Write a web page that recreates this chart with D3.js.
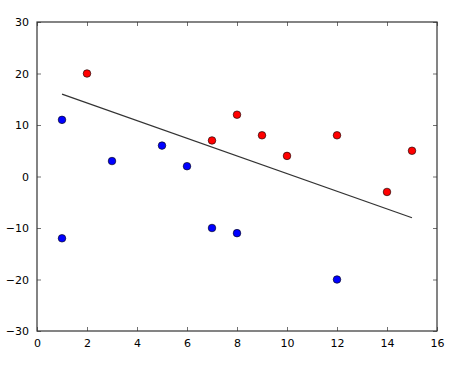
<!DOCTYPE html>
<html>
<head>
<meta charset="utf-8">
<script src="https://cdn.jsdelivr.net/npm/d3@7"></script>
<style>
  body { margin: 0; background: #fff; }
  svg { display: block; }
</style>
</head>
<body>
<svg id="chart" width="474" height="369"></svg>
<script>
// data
const blueX = [1, 1, 3, 5, 6, 7, 8, 12];
const blueY = [11, -12, 3, 6, 2, -10, -11, -20];
const redX = [2, 7, 8, 9, 10, 12, 14, 15];
const redY = [20, 7, 12, 8, 4, 8, -3, 5];
const fitX = [1, 15];
const fitY = [16, -8];
const xTicks = [0, 2, 4, 6, 8, 10, 12, 14, 16];
const yTicks = [-30, -20, -10, 0, 10, 20, 30];

const size = { width: 474, height: 369 };
const margin = { top: 22, right: 37, bottom: 38, left: 37 };

const svg = d3.select("#chart");

const xScale = d3
  .scaleLinear()
  .domain([0, 16])
  .range([margin.left, size.width - margin.right]);

const yScale = d3
  .scaleLinear()
  .domain([-30, 30])
  .range([size.height - margin.bottom, margin.top]);

const tickLen = 4;
const styleAxis = (g) => {
  g.attr("font-family", "DejaVu Sans, sans-serif").attr("font-size", 11);
  g.select(".domain").remove();
  g.selectAll(".tick line").attr("stroke", "#333").attr("stroke-width", 0.7);
  g.selectAll(".tick text").attr("fill", "#000");
};

// bottom / top
svg
  .append("g")
  .attr("transform", `translate(0,${yScale(-30)})`)
  .call(d3.axisBottom(xScale).tickValues(xTicks).tickSizeInner(-tickLen).tickSizeOuter(0).tickPadding(8).tickFormat(d3.format("d")))
  .call(styleAxis);

svg
  .append("g")
  .attr("transform", `translate(0,${yScale(30)})`)
  .call(d3.axisTop(xScale).tickValues(xTicks).tickSizeInner(-tickLen).tickSizeOuter(0).tickFormat(""))
  .call(styleAxis);

// left / right
svg
  .append("g")
  .attr("transform", `translate(${xScale(0)},0)`)
  .call(d3.axisLeft(yScale).tickValues(yTicks).tickSizeInner(-tickLen).tickSizeOuter(0).tickPadding(8).tickFormat(d3.format("d")))
  .call(styleAxis);

svg
  .append("g")
  .attr("transform", `translate(${xScale(16)},0)`)
  .call(d3.axisRight(yScale).tickValues(yTicks).tickSizeInner(-tickLen).tickSizeOuter(0).tickFormat(""))
  .call(styleAxis);

// fit line
const lineGen = d3
  .line()
  .x((d) => xScale(d[0]))
  .y((d) => yScale(d[1]));

svg
  .append("path")
  .datum(d3.zip(fitX, fitY))
  .attr("d", lineGen)
  .attr("fill", "none")
  .attr("stroke", "#333")
  .attr("stroke-width", 1.2);

// points
const drawPoints = (xs, ys, color) => {
  svg
    .append("g")
    .selectAll("circle")
    .data(d3.zip(xs, ys))
    .enter()
    .append("circle")
    .attr("cx", (d) => xScale(d[0]))
    .attr("cy", (d) => yScale(d[1]))
    .attr("r", 3.8)
    .attr("fill", color)
    .attr("stroke", "#000")
    .attr("stroke-width", 0.6);
};

drawPoints(blueX, blueY, "#0000ff");
drawPoints(redX, redY, "#ff0000");

// frame
svg
  .append("rect")
  .attr("x", xScale(0))
  .attr("y", yScale(30))
  .attr("width", xScale(16) - xScale(0))
  .attr("height", yScale(-30) - yScale(30))
  .attr("fill", "none")
  .attr("stroke", "#333")
  .attr("stroke-width", 1.2);
</script>
</body>
</html>
